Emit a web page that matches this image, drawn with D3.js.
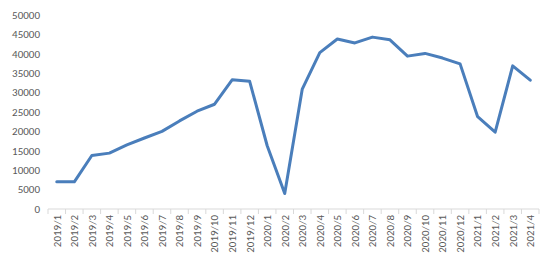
<!DOCTYPE html>
<html>
<head>
<meta charset="utf-8">
<script src="https://cdn.jsdelivr.net/npm/d3@7"></script>
<style>
  html, body { margin: 0; padding: 0; background: #fff; }
  svg { display: block; }
</style>
</head>
<body>
<div id="chart"></div>
<script>
const months = [
  '2019/1', '2019/2', '2019/3', '2019/4', '2019/5', '2019/6', '2019/7',
  '2019/8', '2019/9', '2019/10', '2019/11', '2019/12', '2020/1', '2020/2',
  '2020/3', '2020/4', '2020/5', '2020/6', '2020/7', '2020/8', '2020/9',
  '2020/10', '2020/11', '2020/12', '2021/1', '2021/2', '2021/3', '2021/4'
];
const values = [
  7000, 7000, 13800, 14400, 16500, 18300, 20000,
  22700, 25200, 27000, 33300, 32900, 16300, 4000,
  30900, 40300, 43800, 42800, 44300, 43600, 39400,
  40100, 38900, 37400, 23800, 19800, 36900, 33200
];
const yTicks = [0, 5000, 10000, 15000, 20000, 25000, 30000, 35000, 40000, 45000, 50000];

const width = 554, height = 271;
const margin = { top: 15, right: 15, bottom: 62, left: 48 };

const svg = d3.select('#chart').append('svg')
    .attr('width', width)
    .attr('height', height);

const x = d3.scaleBand()
    .domain(months)
    .range([margin.left, width - margin.right]);

const y = d3.scaleLinear()
    .domain([0, 50000])
    .range([height - margin.bottom, margin.top]);

const font = 'Calibri, Carlito, "Liberation Sans", Arial, sans-serif';

// y labels, no axis line
svg.append('g')
    .attr('transform', `translate(${margin.left - 8},0)`)
  .selectAll('text')
  .data(yTicks)
  .join('text')
    .attr('y', d => y(d))
    .attr('dy', '0.35em')
    .attr('text-anchor', 'end')
    .attr('font-family', font)
    .attr('font-size', '11px')
    .attr('fill', '#595959')
    .text(d => d);

// category axis with ticks between categories
const xAxis = svg.append('g')
    .attr('transform', `translate(0,${y(0)})`);

xAxis.append('line')
    .attr('x1', x.range()[0])
    .attr('x2', x.range()[1])
    .attr('stroke', '#d9d9d9');

xAxis.selectAll('line.tick')
  .data(months.concat(['end']))
  .join('line')
    .attr('class', 'tick')
    .attr('x1', (d, i) => x.range()[0] + i * x.step())
    .attr('x2', (d, i) => x.range()[0] + i * x.step())
    .attr('y1', 0)
    .attr('y2', 5)
    .attr('stroke', '#d9d9d9');

xAxis.selectAll('text')
  .data(months)
  .join('text')
    .attr('transform', d => `translate(${x(d) + x.bandwidth() / 2},6) rotate(-90)`)
    .attr('dy', '0.35em')
    .attr('text-anchor', 'end')
    .attr('font-family', font)
    .attr('font-size', '11px')
    .attr('fill', '#595959')
    .text(d => d);

const line = d3.line()
    .x((d, i) => x(months[i]) + x.bandwidth() / 2)
    .y(d => y(d));

svg.append('path')
    .datum(values)
    .attr('fill', 'none')
    .attr('stroke', '#4a7ebb')
    .attr('stroke-width', 3)
    .attr('stroke-linejoin', 'round')
    .attr('stroke-linecap', 'round')
    .attr('d', line);
</script>
</body>
</html>
